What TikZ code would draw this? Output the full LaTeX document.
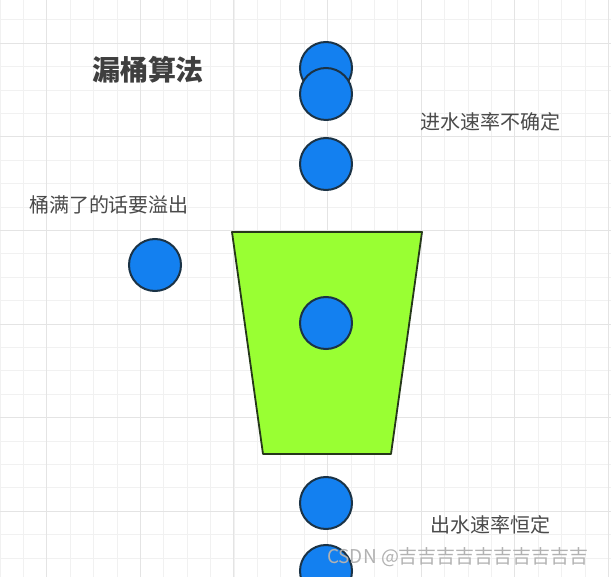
\documentclass[tikz,border=0pt]{standalone}
\usepackage{fontspec}
\usepackage{tikz}
\usetikzlibrary{positioning}
\newfontfamily\cjk{Noto Sans CJK SC}
\definecolor{dropblue}{HTML}{1380F0}
\definecolor{dropedge}{HTML}{1B3346}
\definecolor{bucketgreen}{HTML}{99FF33}
\definecolor{bucketedge}{HTML}{26381A}
\definecolor{gridminor}{HTML}{F1F1F1}
\definecolor{gridmajor}{HTML}{E4E4E4}
\definecolor{labelgray}{HTML}{4A4A4A}
\tikzset{
  drop/.style={circle, draw=dropedge, fill=dropblue, line width=2pt,
    minimum size=52pt, inner sep=0pt},
  label/.style={text=labelgray, inner sep=0pt, font=\cjk\fontsize{20}{21}\selectfont},
}

\begin{document}
\begin{tikzpicture}[x=1pt, y=-1pt]
    \useasboundingbox (0,0) rectangle (611,577);
    \clip (0,0) rectangle (611,577);
    \fill[white] (0,0) rectangle (611,577);

    % grid
    \foreach \i in {0,...,26} {
      \draw[gridminor, line width=0.8pt] (23.4*\i,0) -- (23.4*\i,577);
    }
    \foreach \j in {0,...,24} {
      \draw[gridminor, line width=0.8pt] (0,19.9+23.4*\j) -- (611,19.9+23.4*\j);
    }
    \foreach \i in {0,...,6} {
      \draw[gridmajor, line width=0.9pt] (46.7+93.6*\i,0) -- (46.7+93.6*\i,577);
    }
    \foreach \j in {0,...,5} {
      \draw[gridmajor, line width=0.9pt] (0,43.3+93.6*\j) -- (611,43.3+93.6*\j);
    }

    % bucket
    \draw[bucketedge, fill=bucketgreen, line width=1.8pt, line join=round]
      (232,232) -- (422,232) -- (391,454) -- (263,454) -- cycle;

    % drops
    \node[drop] (in1) at (326,68) {};
    \node[drop] (in2) at (326,94) {};
    \node[drop] (in3) at (326,164) {};
    \node[drop] (spill) at (155,265) {};
    \node[drop] (inside) at (326,323) {};
    \node[drop] (out1) at (326,503) {};
    \node[drop] (out2) at (326,571) {};

    % labels
    \node[text=labelgray!85!black, inner sep=0pt,
      font=\cjk\bfseries\fontsize{28}{30}\selectfont] (title) at (148,70) {漏桶算法};
    \node[label] (inrate) at (490,122) {进水速率不确定};
    \node[label] (overflow) at (109,205) {桶满了的话要溢出};
    \node[label] (outrate) at (490,525) {出水速率恒定};
    \node[text=gray!60, inner sep=0pt, font=\cjk\fontsize{19}{20}\selectfont]
      (mark) at (458,557) {CSDN @吉吉吉吉吉吉吉吉吉吉};
  \end{tikzpicture}
\end{document}
